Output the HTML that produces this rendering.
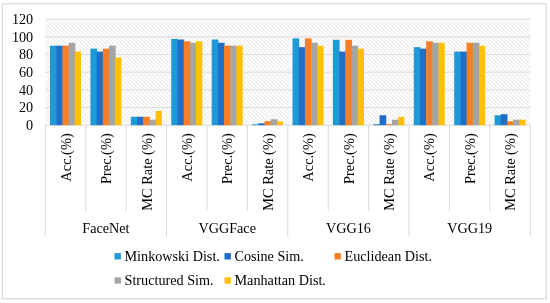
<!DOCTYPE html>
<html lang="en"><head><meta charset="utf-8"><title>Chart</title>
<style>html,body{margin:0;padding:0;background:#fff}body{width:550px;height:303px;overflow:hidden}svg{display:block}text{font-family:"Liberation Serif",serif;font-size:14.2px;fill:#000}</style>
</head><body>
<svg width="550" height="303" viewBox="0 0 550 303">
<defs><pattern id="h" width="4" height="4" patternUnits="userSpaceOnUse" patternTransform="translate(45.30 19.20)">
<path d="M-1 -1 L5 5 M-1 3 L1 5 M3 -1 L5 1" stroke="#d6d6d6" stroke-width="0.78" fill="none"/></pattern></defs>
<rect x="0" y="0" width="550" height="303" fill="#fff"/>
<rect x="2.30" y="3.80" width="543.90" height="294.90" fill="#fff" stroke="#d9d9d9" stroke-width="1.2"/>
<rect x="45.30" y="19.20" width="485.00" height="106.00" fill="url(#h)"/>
<line x1="45.30" y1="125.20" x2="530.30" y2="125.20" stroke="#d9d9d9" stroke-width="1"/>
<text x="33.2" y="129.90" text-anchor="end">0</text>
<line x1="45.30" y1="107.53" x2="530.30" y2="107.53" stroke="#dcdcdc" stroke-width="1"/>
<text x="33.2" y="112.23" text-anchor="end">20</text>
<line x1="45.30" y1="89.87" x2="530.30" y2="89.87" stroke="#dcdcdc" stroke-width="1"/>
<text x="33.2" y="94.57" text-anchor="end">40</text>
<line x1="45.30" y1="72.20" x2="530.30" y2="72.20" stroke="#dcdcdc" stroke-width="1"/>
<text x="33.2" y="76.90" text-anchor="end">60</text>
<line x1="45.30" y1="54.53" x2="530.30" y2="54.53" stroke="#dcdcdc" stroke-width="1"/>
<text x="33.2" y="59.23" text-anchor="end">80</text>
<line x1="45.30" y1="36.87" x2="530.30" y2="36.87" stroke="#dcdcdc" stroke-width="1"/>
<text x="33.2" y="41.57" text-anchor="end">100</text>
<line x1="45.30" y1="19.20" x2="530.30" y2="19.20" stroke="#dcdcdc" stroke-width="1"/>
<text x="33.2" y="23.90" text-anchor="end">120</text>
<rect x="50.01" y="45.70" width="6.70" height="79.50" fill="#1f9ad6"/>
<rect x="56.21" y="45.70" width="6.70" height="79.50" fill="#1f6ec8"/>
<rect x="62.41" y="45.70" width="6.70" height="79.50" fill="#f97f27"/>
<rect x="68.61" y="42.76" width="6.70" height="82.44" fill="#a5a5a5"/>
<rect x="74.81" y="51.59" width="6.20" height="73.61" fill="#ffc000"/>
<rect x="90.42" y="48.64" width="6.70" height="76.56" fill="#1f9ad6"/>
<rect x="96.62" y="51.59" width="6.70" height="73.61" fill="#1f6ec8"/>
<rect x="102.83" y="48.64" width="6.70" height="76.56" fill="#f97f27"/>
<rect x="109.03" y="45.70" width="6.70" height="79.50" fill="#a5a5a5"/>
<rect x="115.22" y="57.48" width="6.20" height="67.72" fill="#ffc000"/>
<rect x="130.84" y="116.76" width="6.70" height="8.44" fill="#1f9ad6"/>
<rect x="137.04" y="116.76" width="6.70" height="8.44" fill="#1f6ec8"/>
<rect x="143.24" y="116.76" width="6.70" height="8.44" fill="#f97f27"/>
<rect x="149.44" y="119.71" width="6.70" height="5.49" fill="#a5a5a5"/>
<rect x="155.64" y="110.88" width="6.20" height="14.32" fill="#ffc000"/>
<rect x="171.26" y="38.90" width="6.70" height="86.30" fill="#1f9ad6"/>
<rect x="177.46" y="39.52" width="6.70" height="85.68" fill="#1f6ec8"/>
<rect x="183.66" y="41.28" width="6.70" height="83.92" fill="#f97f27"/>
<rect x="189.86" y="42.76" width="6.70" height="82.44" fill="#a5a5a5"/>
<rect x="196.06" y="41.28" width="6.20" height="83.92" fill="#ffc000"/>
<rect x="211.67" y="39.52" width="6.70" height="85.68" fill="#1f9ad6"/>
<rect x="217.87" y="42.76" width="6.70" height="82.44" fill="#1f6ec8"/>
<rect x="224.07" y="45.70" width="6.70" height="79.50" fill="#f97f27"/>
<rect x="230.27" y="45.70" width="6.70" height="79.50" fill="#a5a5a5"/>
<rect x="236.47" y="45.70" width="6.20" height="79.50" fill="#ffc000"/>
<rect x="252.09" y="124.27" width="6.70" height="0.93" fill="#1f9ad6"/>
<rect x="258.29" y="123.30" width="6.70" height="1.90" fill="#1f6ec8"/>
<rect x="264.49" y="121.18" width="6.70" height="4.02" fill="#f97f27"/>
<rect x="270.69" y="119.24" width="6.70" height="5.96" fill="#a5a5a5"/>
<rect x="276.89" y="121.36" width="6.20" height="3.84" fill="#ffc000"/>
<rect x="292.51" y="38.34" width="6.70" height="86.86" fill="#1f9ad6"/>
<rect x="298.71" y="47.17" width="6.70" height="78.03" fill="#1f6ec8"/>
<rect x="304.91" y="38.34" width="6.70" height="86.86" fill="#f97f27"/>
<rect x="311.11" y="42.76" width="6.70" height="82.44" fill="#a5a5a5"/>
<rect x="317.31" y="45.70" width="6.20" height="79.50" fill="#ffc000"/>
<rect x="332.92" y="39.81" width="6.70" height="85.39" fill="#1f9ad6"/>
<rect x="339.12" y="51.59" width="6.70" height="73.61" fill="#1f6ec8"/>
<rect x="345.32" y="39.81" width="6.70" height="85.39" fill="#f97f27"/>
<rect x="351.52" y="45.70" width="6.70" height="79.50" fill="#a5a5a5"/>
<rect x="357.72" y="48.64" width="6.20" height="76.56" fill="#ffc000"/>
<rect x="373.34" y="124.13" width="6.70" height="1.07" fill="#1f9ad6"/>
<rect x="379.54" y="115.29" width="6.70" height="9.91" fill="#1f6ec8"/>
<rect x="385.74" y="124.13" width="6.70" height="1.07" fill="#f97f27"/>
<rect x="391.94" y="119.71" width="6.70" height="5.49" fill="#a5a5a5"/>
<rect x="398.14" y="116.76" width="6.20" height="8.44" fill="#ffc000"/>
<rect x="413.76" y="47.17" width="6.70" height="78.03" fill="#1f9ad6"/>
<rect x="419.96" y="48.64" width="6.70" height="76.56" fill="#1f6ec8"/>
<rect x="426.16" y="41.28" width="6.70" height="83.92" fill="#f97f27"/>
<rect x="432.36" y="42.76" width="6.70" height="82.44" fill="#a5a5a5"/>
<rect x="438.56" y="42.76" width="6.20" height="82.44" fill="#ffc000"/>
<rect x="454.17" y="51.59" width="6.70" height="73.61" fill="#1f9ad6"/>
<rect x="460.37" y="51.59" width="6.70" height="73.61" fill="#1f6ec8"/>
<rect x="466.57" y="42.76" width="6.70" height="82.44" fill="#f97f27"/>
<rect x="472.77" y="42.76" width="6.70" height="82.44" fill="#a5a5a5"/>
<rect x="478.97" y="45.70" width="6.20" height="79.50" fill="#ffc000"/>
<rect x="494.59" y="115.29" width="6.70" height="9.91" fill="#1f9ad6"/>
<rect x="500.79" y="114.20" width="6.70" height="11.00" fill="#1f6ec8"/>
<rect x="506.99" y="121.18" width="6.70" height="4.02" fill="#f97f27"/>
<rect x="513.19" y="119.71" width="6.70" height="5.49" fill="#a5a5a5"/>
<rect x="519.39" y="119.71" width="6.20" height="5.49" fill="#ffc000"/>
<line x1="45.30" y1="125.20" x2="45.30" y2="236.40" stroke="#d9d9d9" stroke-width="1"/>
<line x1="85.72" y1="125.20" x2="85.72" y2="211.00" stroke="#d9d9d9" stroke-width="1"/>
<line x1="126.13" y1="125.20" x2="126.13" y2="211.00" stroke="#d9d9d9" stroke-width="1"/>
<line x1="166.55" y1="125.20" x2="166.55" y2="236.40" stroke="#d9d9d9" stroke-width="1"/>
<line x1="206.97" y1="125.20" x2="206.97" y2="211.00" stroke="#d9d9d9" stroke-width="1"/>
<line x1="247.38" y1="125.20" x2="247.38" y2="211.00" stroke="#d9d9d9" stroke-width="1"/>
<line x1="287.80" y1="125.20" x2="287.80" y2="236.40" stroke="#d9d9d9" stroke-width="1"/>
<line x1="328.22" y1="125.20" x2="328.22" y2="211.00" stroke="#d9d9d9" stroke-width="1"/>
<line x1="368.63" y1="125.20" x2="368.63" y2="211.00" stroke="#d9d9d9" stroke-width="1"/>
<line x1="409.05" y1="125.20" x2="409.05" y2="236.40" stroke="#d9d9d9" stroke-width="1"/>
<line x1="449.47" y1="125.20" x2="449.47" y2="211.00" stroke="#d9d9d9" stroke-width="1"/>
<line x1="489.88" y1="125.20" x2="489.88" y2="211.00" stroke="#d9d9d9" stroke-width="1"/>
<line x1="530.30" y1="125.20" x2="530.30" y2="236.40" stroke="#d9d9d9" stroke-width="1"/>
<text transform="translate(70.71 133.3) rotate(-90)" text-anchor="end" style="font-size:14.4px">Acc.(%)</text>
<text transform="translate(111.12 133.3) rotate(-90)" text-anchor="end" style="font-size:14.4px">Prec.(%)</text>
<text transform="translate(151.54 133.3) rotate(-90)" text-anchor="end" style="font-size:14.4px">MC Rate (%)</text>
<text transform="translate(191.96 133.3) rotate(-90)" text-anchor="end" style="font-size:14.4px">Acc.(%)</text>
<text transform="translate(232.38 133.3) rotate(-90)" text-anchor="end" style="font-size:14.4px">Prec.(%)</text>
<text transform="translate(272.79 133.3) rotate(-90)" text-anchor="end" style="font-size:14.4px">MC Rate (%)</text>
<text transform="translate(313.21 133.3) rotate(-90)" text-anchor="end" style="font-size:14.4px">Acc.(%)</text>
<text transform="translate(353.62 133.3) rotate(-90)" text-anchor="end" style="font-size:14.4px">Prec.(%)</text>
<text transform="translate(394.04 133.3) rotate(-90)" text-anchor="end" style="font-size:14.4px">MC Rate (%)</text>
<text transform="translate(434.46 133.3) rotate(-90)" text-anchor="end" style="font-size:14.4px">Acc.(%)</text>
<text transform="translate(474.88 133.3) rotate(-90)" text-anchor="end" style="font-size:14.4px">Prec.(%)</text>
<text transform="translate(515.29 133.3) rotate(-90)" text-anchor="end" style="font-size:14.4px">MC Rate (%)</text>
<text x="105.92" y="232.6" text-anchor="middle">FaceNet</text>
<text x="227.18" y="232.6" text-anchor="middle">VGGFace</text>
<text x="348.43" y="232.6" text-anchor="middle">VGG16</text>
<text x="469.68" y="232.6" text-anchor="middle">VGG19</text>
<rect x="114.50" y="253.10" width="6.4" height="6.4" fill="#1f9ad6"/>
<text x="124.50" y="261.00">Minkowski Dist.</text>
<rect x="224.50" y="253.10" width="6.4" height="6.4" fill="#1f6ec8"/>
<text x="234.50" y="261.00">Cosine Sim.</text>
<rect x="334.50" y="253.10" width="6.4" height="6.4" fill="#f97f27"/>
<text x="344.50" y="261.00">Euclidean Dist.</text>
<rect x="114.50" y="277.30" width="6.4" height="6.4" fill="#a5a5a5"/>
<text x="124.50" y="285.20">Structured Sim.</text>
<rect x="224.50" y="277.30" width="6.4" height="6.4" fill="#ffc000"/>
<text x="234.50" y="285.20">Manhattan Dist.</text>
</svg></body></html>
